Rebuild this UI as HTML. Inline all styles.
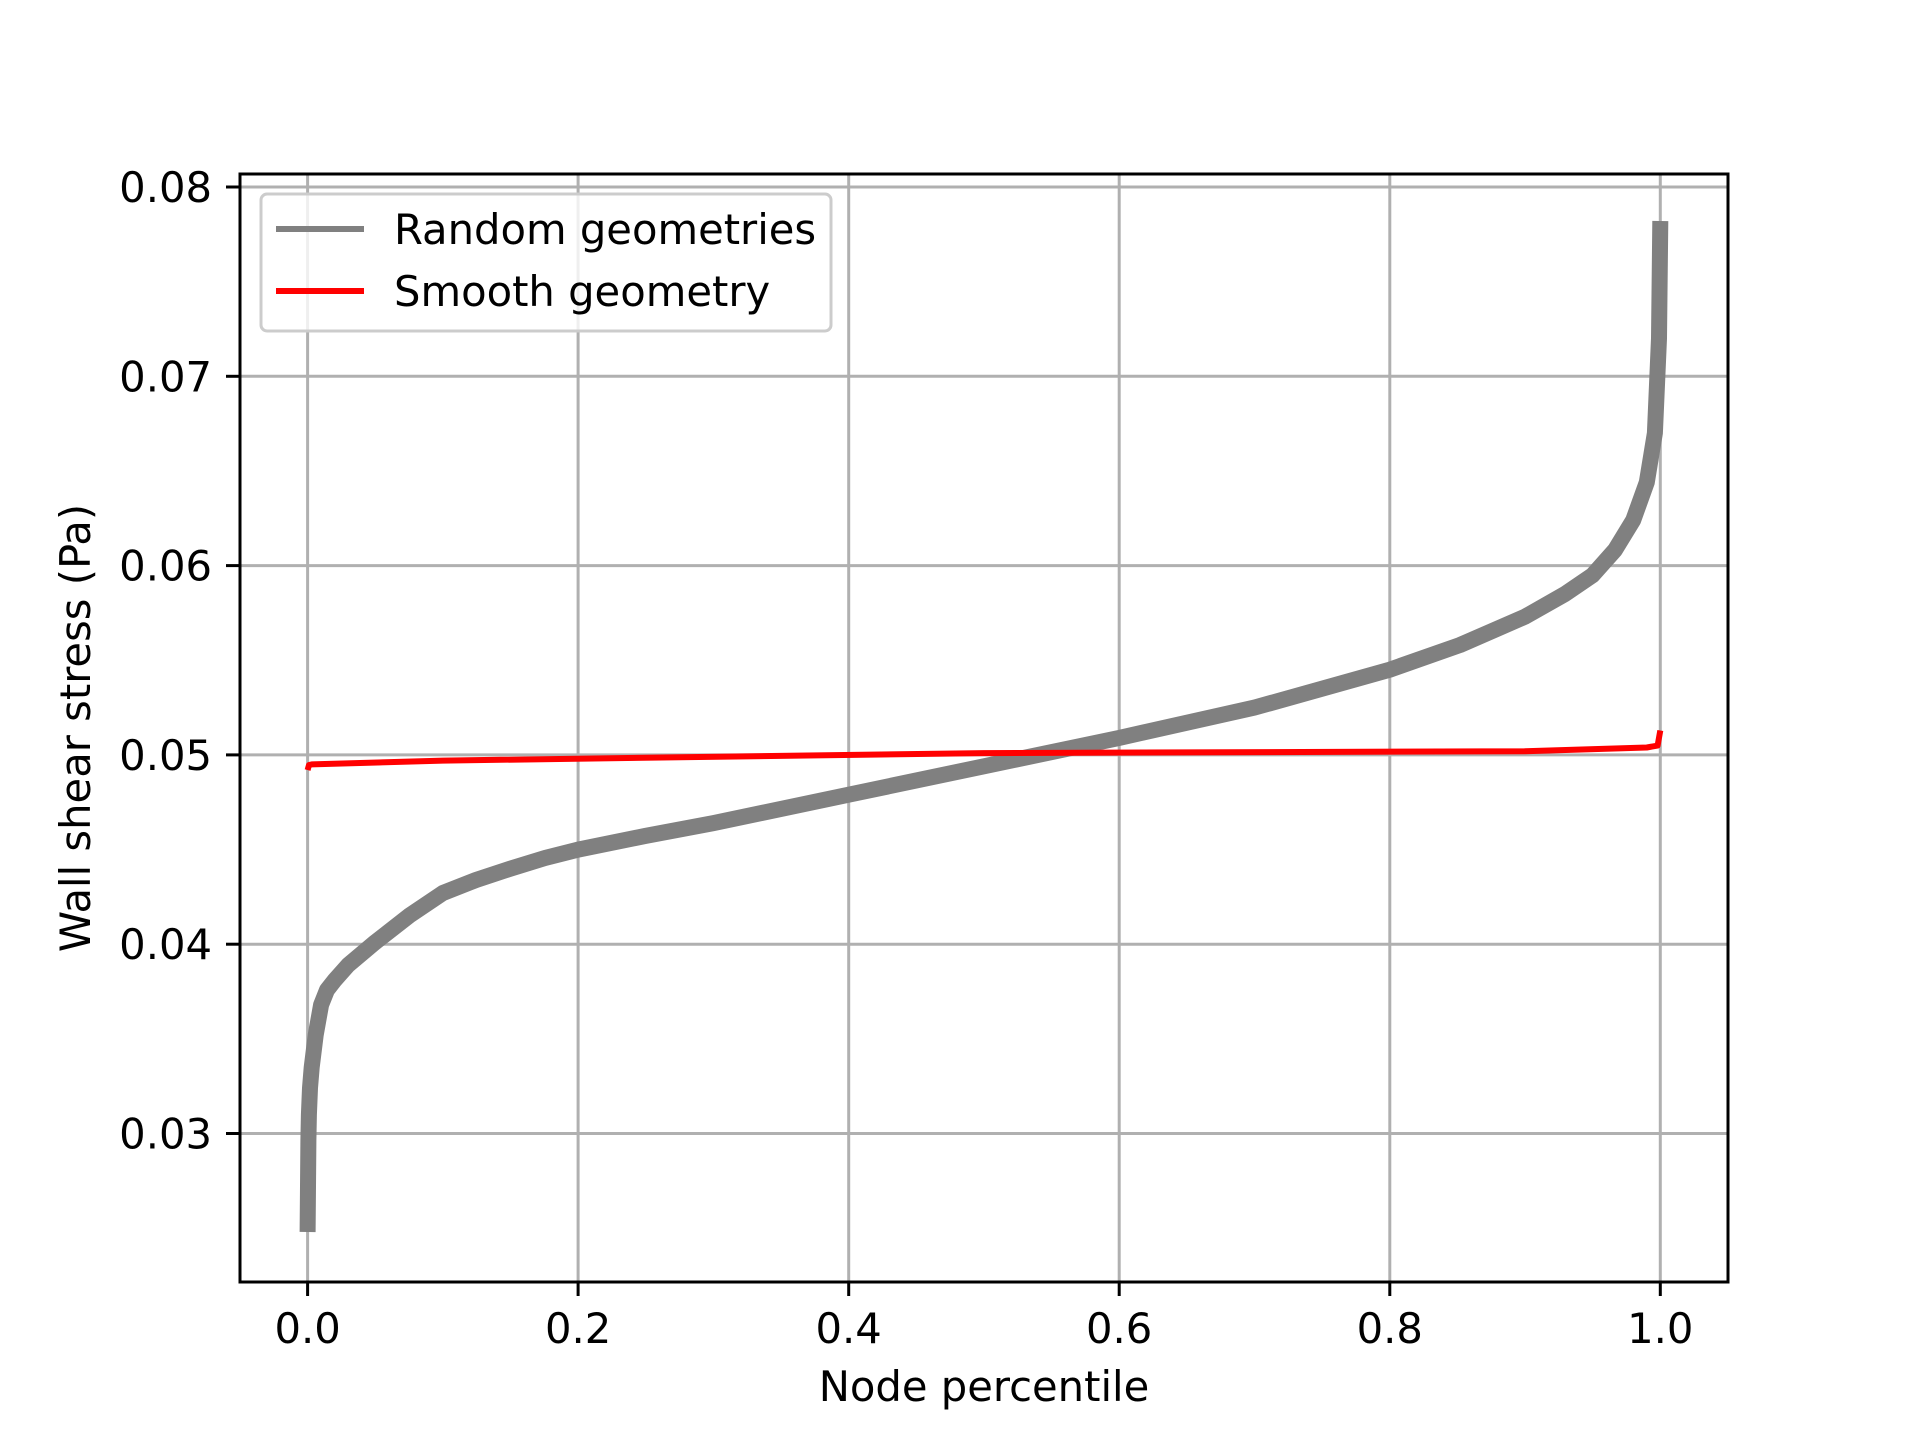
<!DOCTYPE html>
<html><head><meta charset="utf-8"><style>
html,body{margin:0;padding:0;background:#fff}
svg{display:block}
text{font-family:"DejaVu Sans","Liberation Sans",sans-serif;fill:#000}
</style></head><body>
<svg width="1920" height="1440" viewBox="0 0 1920 1440" xmlns="http://www.w3.org/2000/svg">
<rect width="1920" height="1440" fill="#fff"/>
<g stroke="#b0b0b0" stroke-width="3">
<line x1="307.6" y1="174" x2="307.6" y2="1282"/>
<line x1="578.1" y1="174" x2="578.1" y2="1282"/>
<line x1="848.7" y1="174" x2="848.7" y2="1282"/>
<line x1="1119.2" y1="174" x2="1119.2" y2="1282"/>
<line x1="1389.8" y1="174" x2="1389.8" y2="1282"/>
<line x1="1660.3" y1="174" x2="1660.3" y2="1282"/>
<line x1="240" y1="1133.5" x2="1728" y2="1133.5"/>
<line x1="240" y1="944.2" x2="1728" y2="944.2"/>
<line x1="240" y1="754.9" x2="1728" y2="754.9"/>
<line x1="240" y1="565.6" x2="1728" y2="565.6"/>
<line x1="240" y1="376.3" x2="1728" y2="376.3"/>
<line x1="240" y1="187" x2="1728" y2="187"/>
</g>
<polyline fill="none" stroke="#808080" stroke-width="16" stroke-linejoin="round" points="307.6,1232 308.4,1140 308.9,1114.6 310,1088 311.7,1067.3 315.7,1035 321.1,1004.8 327,990 334.7,980.2 348.2,965 375.2,942.3 409.1,915.8 442.9,893 476,880 510.5,868.6 545,858 578.1,849.6 645,836 713.4,823.1 848.7,794.7 983.9,766.3 1119.2,737.9 1254.5,707.6 1389.8,669.7 1460,645 1525,616.7 1565,594 1592.7,575.1 1615,550 1633.2,520.2 1646.8,482.3 1654.9,433 1659,338.4 1660.3,221"/>
<polyline fill="none" stroke="#ff0000" stroke-width="6" stroke-linejoin="round" points="307.6,770.1 309,765 311.7,764.4 442.9,760.6 983.9,753.1 1525,751.2 1646.8,747.5 1657.6,745.6 1660.3,730.5"/>
<rect x="240" y="174" width="1488" height="1108" fill="none" stroke="#000" stroke-width="3"/>
<g stroke="#000" stroke-width="3">
<line x1="307.6" y1="1282" x2="307.6" y2="1296"/>
<line x1="578.1" y1="1282" x2="578.1" y2="1296"/>
<line x1="848.7" y1="1282" x2="848.7" y2="1296"/>
<line x1="1119.2" y1="1282" x2="1119.2" y2="1296"/>
<line x1="1389.8" y1="1282" x2="1389.8" y2="1296"/>
<line x1="1660.3" y1="1282" x2="1660.3" y2="1296"/>
<line x1="226" y1="1133.5" x2="240" y2="1133.5"/>
<line x1="226" y1="944.2" x2="240" y2="944.2"/>
<line x1="226" y1="754.9" x2="240" y2="754.9"/>
<line x1="226" y1="565.6" x2="240" y2="565.6"/>
<line x1="226" y1="376.3" x2="240" y2="376.3"/>
<line x1="226" y1="187" x2="240" y2="187"/>
</g>
<g font-size="41.7" text-anchor="middle">
<text x="307.6" y="1343">0.0</text>
<text x="578.1" y="1343">0.2</text>
<text x="848.7" y="1343">0.4</text>
<text x="1119.2" y="1343">0.6</text>
<text x="1389.8" y="1343">0.8</text>
<text x="1660.3" y="1343">1.0</text>
</g>
<g font-size="41.7" text-anchor="end">
<text x="212" y="1148.5">0.03</text>
<text x="212" y="959.2">0.04</text>
<text x="212" y="769.9">0.05</text>
<text x="212" y="580.6">0.06</text>
<text x="212" y="391.3">0.07</text>
<text x="212" y="202">0.08</text>
</g>
<text x="984" y="1401" font-size="41.7" text-anchor="middle">Node percentile</text>
<text transform="translate(90,728) rotate(-90)" font-size="41.7" text-anchor="middle">Wall shear stress (Pa)</text>
<rect x="261" y="194" width="570" height="137" rx="6" fill="#fff" fill-opacity="0.8" stroke="#cccccc" stroke-width="3"/>
<line x1="276" y1="229" x2="364" y2="229" stroke="#808080" stroke-width="6"/>
<line x1="276" y1="291" x2="364" y2="291" stroke="#ff0000" stroke-width="6"/>
<text x="394" y="244" font-size="41.7">Random geometries</text>
<text x="394" y="306" font-size="41.7">Smooth geometry</text>
</svg>
</body></html>
